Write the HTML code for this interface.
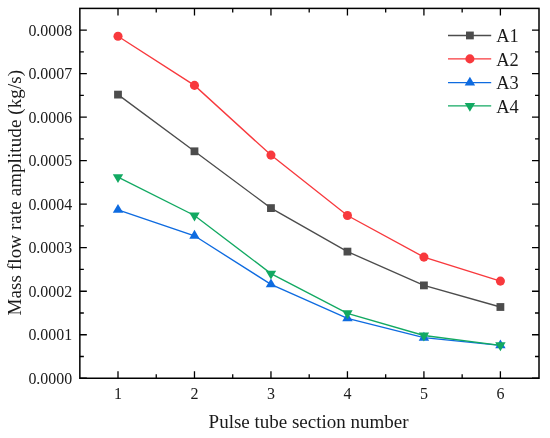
<!DOCTYPE html>
<html><head><meta charset="utf-8"><title>Chart</title>
<style>html,body{margin:0;padding:0;background:#fff;}svg{display:block;}text{font-family:"Liberation Serif","Times New Roman",serif;fill:#1a1a1a;}</style></head><body>
<svg width="550" height="438" viewBox="0 0 550 438">
<rect width="550" height="438" fill="#fff"/>
<polyline points="118.00,94.60 194.48,151.30 270.96,208.10 347.44,251.60 423.92,285.40 500.40,307.00" fill="none" stroke="#4c4c4c" stroke-width="1.35"/>
<rect x="114.10" y="90.70" width="7.8" height="7.8" fill="#4c4c4c"/>
<rect x="190.58" y="147.40" width="7.8" height="7.8" fill="#4c4c4c"/>
<rect x="267.06" y="204.20" width="7.8" height="7.8" fill="#4c4c4c"/>
<rect x="343.54" y="247.70" width="7.8" height="7.8" fill="#4c4c4c"/>
<rect x="420.02" y="281.50" width="7.8" height="7.8" fill="#4c4c4c"/>
<rect x="496.50" y="303.10" width="7.8" height="7.8" fill="#4c4c4c"/>
<polyline points="118.00,36.20 194.48,85.40 270.96,155.10 347.44,215.50 423.92,257.10 500.40,281.10" fill="none" stroke="#F8393D" stroke-width="1.35"/>
<circle cx="118.00" cy="36.20" r="4.55" fill="#F8393D"/>
<circle cx="194.48" cy="85.40" r="4.55" fill="#F8393D"/>
<circle cx="270.96" cy="155.10" r="4.55" fill="#F8393D"/>
<circle cx="347.44" cy="215.50" r="4.55" fill="#F8393D"/>
<circle cx="423.92" cy="257.10" r="4.55" fill="#F8393D"/>
<circle cx="500.40" cy="281.10" r="4.55" fill="#F8393D"/>
<polyline points="118.00,209.90 194.48,235.80 270.96,284.40 347.44,318.40 423.92,337.70 500.40,345.40" fill="none" stroke="#0E6BE0" stroke-width="1.35"/>
<polygon points="112.80,212.87 123.20,212.87 118.00,203.97" fill="#0E6BE0"/>
<polygon points="189.28,238.77 199.68,238.77 194.48,229.87" fill="#0E6BE0"/>
<polygon points="265.76,287.37 276.16,287.37 270.96,278.47" fill="#0E6BE0"/>
<polygon points="342.24,321.37 352.64,321.37 347.44,312.47" fill="#0E6BE0"/>
<polygon points="418.72,340.67 429.12,340.67 423.92,331.77" fill="#0E6BE0"/>
<polygon points="495.20,348.37 505.60,348.37 500.40,339.47" fill="#0E6BE0"/>
<polyline points="118.00,177.10 194.48,215.50 270.96,273.60 347.44,313.30 423.92,335.50 500.40,345.30" fill="none" stroke="#12A962" stroke-width="1.35"/>
<polygon points="112.80,174.13 123.20,174.13 118.00,183.03" fill="#12A962"/>
<polygon points="189.28,212.53 199.68,212.53 194.48,221.43" fill="#12A962"/>
<polygon points="265.76,270.63 276.16,270.63 270.96,279.53" fill="#12A962"/>
<polygon points="342.24,310.33 352.64,310.33 347.44,319.23" fill="#12A962"/>
<polygon points="418.72,332.53 429.12,332.53 423.92,341.43" fill="#12A962"/>
<polygon points="495.20,342.33 505.60,342.33 500.40,351.23" fill="#12A962"/>
<path d="M79.85,378.25h7 M539.0,378.25h-7 M79.85,356.49h4 M539.0,356.49h-4 M79.85,334.74h7 M539.0,334.74h-7 M79.85,312.98h4 M539.0,312.98h-4 M79.85,291.23h7 M539.0,291.23h-7 M79.85,269.47h4 M539.0,269.47h-4 M79.85,247.71h7 M539.0,247.71h-7 M79.85,225.96h4 M539.0,225.96h-4 M79.85,204.20h7 M539.0,204.20h-7 M79.85,182.45h4 M539.0,182.45h-4 M79.85,160.69h7 M539.0,160.69h-7 M79.85,138.94h4 M539.0,138.94h-4 M79.85,117.18h7 M539.0,117.18h-7 M79.85,95.42h4 M539.0,95.42h-4 M79.85,73.67h7 M539.0,73.67h-7 M79.85,51.91h4 M539.0,51.91h-4 M79.85,30.16h7 M539.0,30.16h-7 M118.00,378.25v-7 M118.00,8.4v7 M156.24,378.25v-4 M156.24,8.4v4 M194.48,378.25v-7 M194.48,8.4v7 M232.72,378.25v-4 M232.72,8.4v4 M270.96,378.25v-7 M270.96,8.4v7 M309.20,378.25v-4 M309.20,8.4v4 M347.44,378.25v-7 M347.44,8.4v7 M385.68,378.25v-4 M385.68,8.4v4 M423.92,378.25v-7 M423.92,8.4v7 M462.16,378.25v-4 M462.16,8.4v4 M500.40,378.25v-7 M500.40,8.4v7" stroke="#000" stroke-width="1.3" fill="none"/>
<rect x="79.85" y="8.4" width="459.15" height="369.85" fill="none" stroke="#000" stroke-width="1.5"/>
<text x="72.1" y="383.95" font-size="15.9" text-anchor="end">0.0000</text>
<text x="72.1" y="340.44" font-size="15.9" text-anchor="end">0.0001</text>
<text x="72.1" y="296.93" font-size="15.9" text-anchor="end">0.0002</text>
<text x="72.1" y="253.41" font-size="15.9" text-anchor="end">0.0003</text>
<text x="72.1" y="209.90" font-size="15.9" text-anchor="end">0.0004</text>
<text x="72.1" y="166.39" font-size="15.9" text-anchor="end">0.0005</text>
<text x="72.1" y="122.88" font-size="15.9" text-anchor="end">0.0006</text>
<text x="72.1" y="79.37" font-size="15.9" text-anchor="end">0.0007</text>
<text x="72.1" y="35.86" font-size="15.9" text-anchor="end">0.0008</text>
<text x="118.00" y="398.9" font-size="16" text-anchor="middle">1</text>
<text x="194.48" y="398.9" font-size="16" text-anchor="middle">2</text>
<text x="270.96" y="398.9" font-size="16" text-anchor="middle">3</text>
<text x="347.44" y="398.9" font-size="16" text-anchor="middle">4</text>
<text x="423.92" y="398.9" font-size="16" text-anchor="middle">5</text>
<text x="500.40" y="398.9" font-size="16" text-anchor="middle">6</text>
<text x="308.6" y="427.6" font-size="19" text-anchor="middle">Pulse tube section number</text>
<text transform="translate(20.6,192.7) rotate(-90)" font-size="19" text-anchor="middle" textLength="245.6" lengthAdjust="spacing">Mass flow rate amplitude (kg/s)</text>
<line x1="448" y1="35.45" x2="491.2" y2="35.45" stroke="#4c4c4c" stroke-width="1.35"/>
<rect x="466.00" y="31.55" width="7.8" height="7.8" fill="#4c4c4c"/>
<text x="496.2" y="42.25" font-size="18.4">A1</text>
<line x1="448" y1="58.9" x2="491.2" y2="58.9" stroke="#F8393D" stroke-width="1.35"/>
<circle cx="469.90" cy="58.90" r="4.55" fill="#F8393D"/>
<text x="496.2" y="65.70" font-size="18.4">A2</text>
<line x1="448" y1="82.6" x2="491.2" y2="82.6" stroke="#0E6BE0" stroke-width="1.35"/>
<polygon points="464.70,85.57 475.10,85.57 469.90,76.67" fill="#0E6BE0"/>
<text x="496.2" y="89.40" font-size="18.4">A3</text>
<line x1="448" y1="105.85" x2="491.2" y2="105.85" stroke="#12A962" stroke-width="1.35"/>
<polygon points="464.70,102.88 475.10,102.88 469.90,111.78" fill="#12A962"/>
<text x="496.2" y="112.65" font-size="18.4">A4</text>
</svg></body></html>
